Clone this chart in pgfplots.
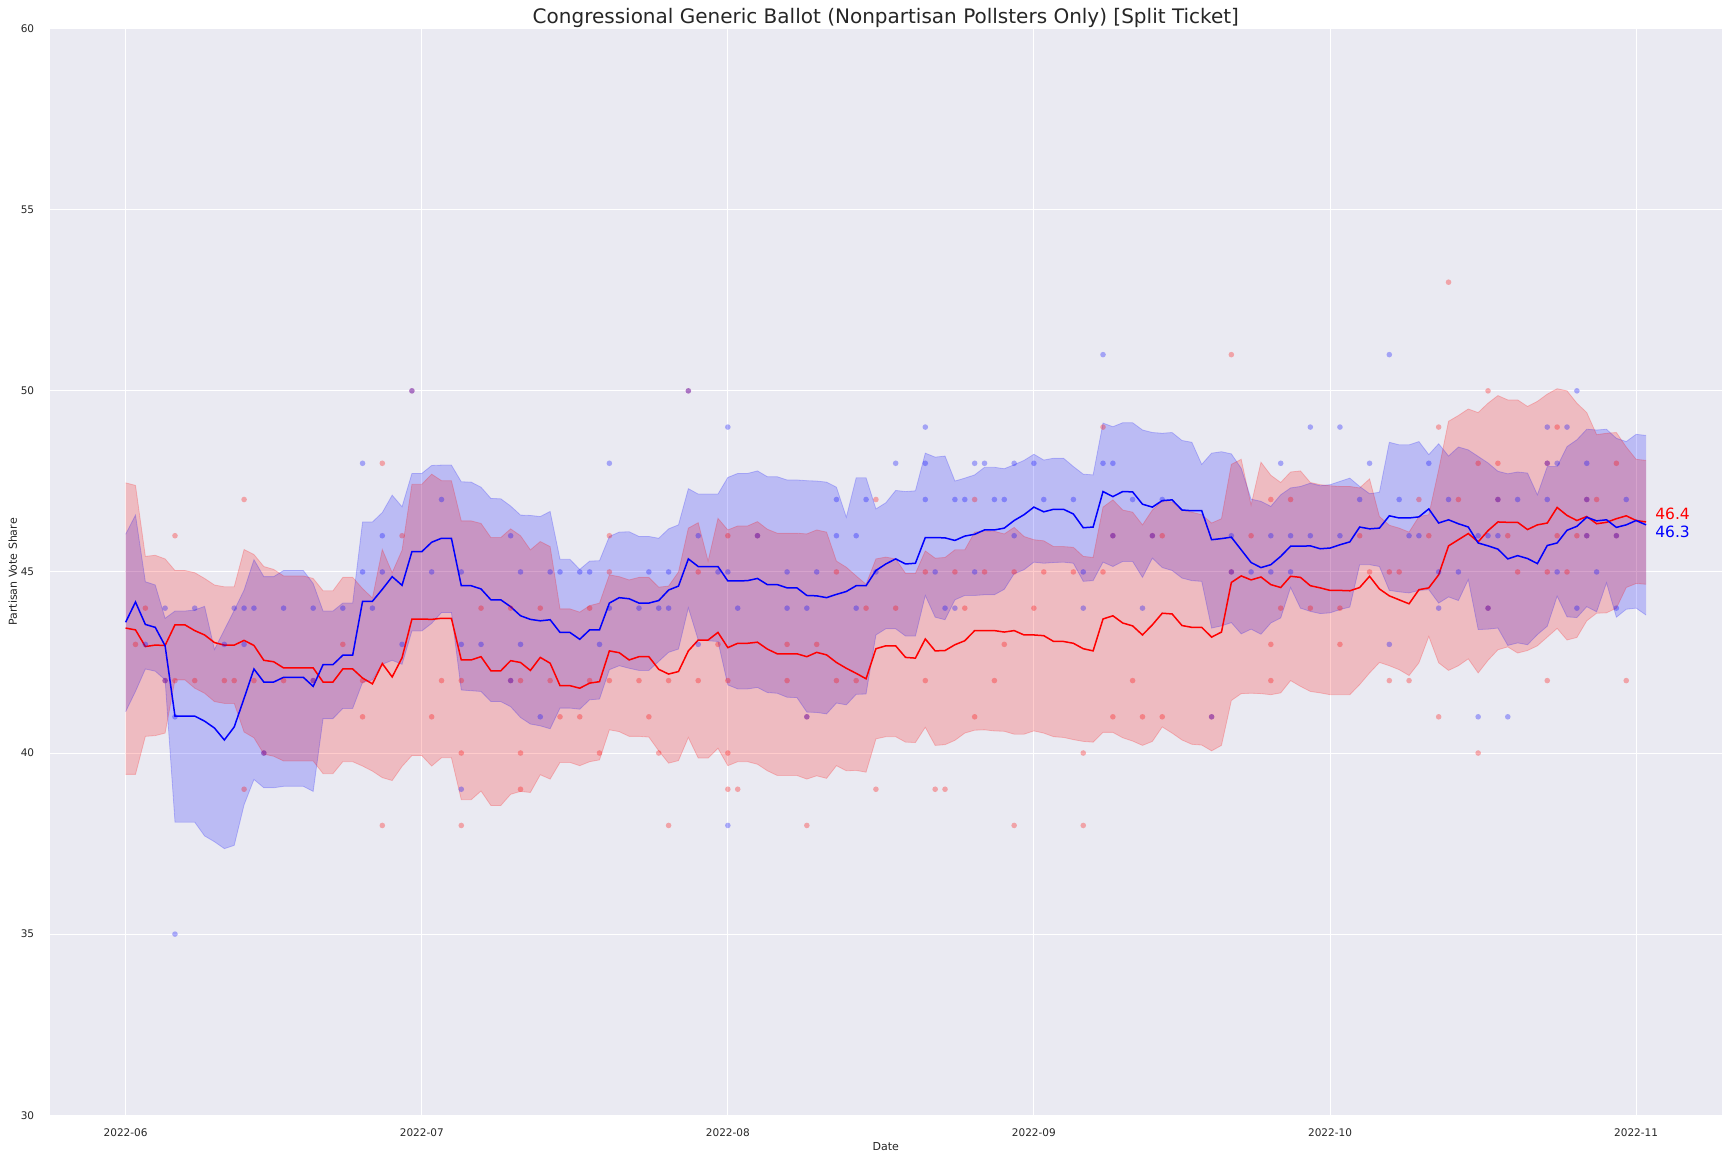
\documentclass[border=0pt]{standalone}
\usepackage{fontspec}
\setmainfont{DejaVu Sans}
\usepackage{pgfplots}
\usepackage{pgfplotstable}
\pgfplotsset{compat=1.18}
\usepgfplotslibrary{fillbetween}
\definecolor{bgc}{HTML}{EAEAF2}
\definecolor{txt}{gray}{0.15}
\pgfplotstableread{
d R Rlo Rhi B Blo Bhi
0 43.45 39.41 47.46 43.61 41.14 46.04
1 43.40 39.41 47.39 44.17 41.70 46.57
2 42.94 40.46 45.43 43.55 42.32 44.73
3 42.98 40.48 45.46 43.47 42.26 44.64
4 42.97 40.55 45.36 42.96 42.02 43.72
5 43.54 42.02 45.04 41.02 38.09 43.92
6 43.54 42.02 45.04 41.02 38.09 43.92
7 43.38 41.79 44.98 41.02 38.09 43.95
8 43.26 41.65 44.82 40.88 37.71 44.05
9 43.05 41.42 44.64 40.69 37.55 42.86
10 42.98 41.37 44.59 40.36 37.36 43.40
11 42.98 41.37 44.59 40.72 37.45 43.94
12 43.11 40.58 45.62 41.51 38.57 44.50
13 42.97 40.42 45.48 42.32 39.27 45.34
14 42.56 39.97 45.15 41.96 39.04 44.87
15 42.52 39.91 45.07 41.96 39.04 44.87
16 42.35 39.78 44.89 42.09 39.08 45.04
17 42.35 39.78 44.89 42.09 39.08 45.04
18 42.35 39.78 44.89 42.09 39.08 45.04
19 42.35 39.78 44.82 41.84 38.94 44.68
20 41.96 39.43 44.48 42.44 40.95 43.92
21 41.96 39.43 44.48 42.44 40.95 43.92
22 42.32 39.76 44.85 42.70 41.23 44.14
23 42.32 39.76 44.85 42.70 41.23 44.14
24 42.07 39.64 44.54 44.19 41.95 46.38
25 41.91 39.50 44.28 44.19 42.02 46.38
26 42.47 39.32 45.62 44.52 42.45 46.64
27 42.10 39.24 44.98 44.87 42.56 47.12
28 42.63 39.63 45.60 44.63 42.45 46.80
29 43.70 39.93 47.42 45.56 43.37 47.72
30 43.70 39.93 47.42 45.56 43.37 47.72
31 43.69 39.64 47.70 45.82 43.58 47.94
32 43.72 39.87 47.52 45.93 43.88 47.95
33 43.72 39.87 47.52 45.93 43.88 47.95
34 42.57 38.71 46.41 44.62 41.74 47.49
35 42.57 38.71 46.41 44.62 41.72 47.48
36 42.66 38.95 46.34 44.53 41.70 47.34
37 42.27 38.55 45.95 44.23 41.42 47.03
38 42.27 38.55 45.95 44.23 41.42 47.02
39 42.55 38.86 46.19 44.04 41.28 46.82
40 42.50 38.94 46.00 43.79 40.98 46.57
41 42.28 38.91 45.61 43.69 40.80 46.56
42 42.64 39.40 45.84 43.65 40.75 46.53
43 42.48 39.28 45.70 43.68 40.67 46.67
44 41.86 39.74 43.98 43.33 41.24 45.35
45 41.86 39.74 43.98 43.33 41.24 45.35
46 41.79 39.65 43.89 43.14 41.21 45.07
47 41.93 39.76 44.07 43.40 41.47 45.30
48 41.97 39.81 44.14 43.40 41.49 45.31
49 42.82 40.64 44.92 44.14 42.30 45.98
50 42.77 40.59 44.87 44.29 42.41 46.10
51 42.57 40.46 44.78 44.26 42.34 46.11
52 42.66 40.46 44.85 44.14 42.28 45.98
53 42.66 40.44 44.85 44.14 42.28 45.98
54 42.31 40.06 44.58 44.21 42.53 45.93
55 42.18 39.72 44.61 44.50 42.78 46.19
56 42.25 39.79 45.00 44.61 42.87 46.30
57 42.82 40.43 46.21 45.36 44.01 47.30
58 43.12 39.86 46.36 45.15 43.12 47.15
59 43.12 39.86 45.30 45.15 43.10 47.15
60 43.33 40.13 46.48 45.15 43.08 47.15
61 42.91 39.65 46.16 44.75 41.88 47.61
62 43.03 39.76 46.27 44.75 41.77 47.72
63 43.03 39.76 46.27 44.76 41.77 47.72
64 43.06 39.69 46.39 44.82 41.81 47.79
65 42.87 39.51 46.18 44.65 41.67 47.63
66 42.74 39.38 46.07 44.65 41.65 47.63
67 42.74 39.38 46.07 44.56 41.54 47.54
68 42.74 39.38 46.07 44.56 41.53 47.54
69 42.66 39.28 46.05 44.35 41.13 47.52
70 42.78 39.37 46.16 44.34 41.12 47.51
71 42.71 39.30 46.10 44.29 41.08 47.48
72 42.50 39.65 45.30 44.38 41.38 47.34
73 42.34 39.51 45.13 44.46 41.33 46.51
74 42.20 39.52 44.89 44.62 41.62 47.60
75 42.05 39.47 44.66 44.62 41.63 47.60
76 42.88 40.39 45.36 45.04 43.26 46.74
77 42.96 40.45 45.41 45.22 43.43 46.91
78 42.96 40.45 45.36 45.36 43.43 47.25
79 42.64 40.30 44.96 45.22 43.23 47.22
80 42.62 40.29 44.96 45.24 43.23 47.24
81 43.15 40.71 45.58 45.95 44.35 48.28
82 42.82 40.21 45.38 45.95 43.75 48.17
83 42.83 40.23 45.40 45.94 43.68 48.20
84 42.99 40.35 45.61 45.87 44.23 47.51
85 43.10 40.55 45.61 45.99 44.35 47.59
86 43.38 40.63 46.10 46.04 44.35 47.68
87 43.38 40.64 46.13 46.16 44.37 47.89
88 43.38 40.61 46.12 46.16 44.37 47.89
89 43.34 40.60 46.05 46.21 44.52 47.85
90 43.38 40.52 46.23 46.42 44.95 47.96
91 43.26 40.52 45.98 46.58 45.06 48.08
92 43.26 40.61 45.89 46.79 45.27 48.25
93 43.24 40.55 45.86 46.66 45.24 48.09
94 43.08 40.45 45.70 46.73 45.26 48.14
95 43.08 40.43 45.70 46.73 45.27 48.14
96 43.03 40.37 45.68 46.60 45.24 47.91
97 42.88 40.32 45.43 46.22 44.74 47.70
98 42.82 40.30 45.40 46.24 44.76 47.68
99 43.70 40.57 46.79 47.22 45.27 49.11
100 43.79 40.57 46.99 47.08 45.15 49.01
101 43.59 40.42 46.71 47.22 45.29 49.12
102 43.51 40.33 46.65 47.21 45.29 49.12
103 43.26 40.21 46.30 46.87 44.85 48.92
104 43.54 40.32 46.71 46.79 45.38 48.85
105 43.86 40.72 46.96 46.97 45.12 48.83
106 43.84 40.55 46.93 46.99 45.04 48.85
107 43.52 40.36 46.71 46.71 44.83 48.63
108 43.47 40.24 46.65 46.69 44.76 48.58
109 43.47 40.22 46.58 46.69 44.74 47.97
110 43.20 40.06 46.35 45.89 43.45 48.28
111 43.34 40.21 46.47 45.92 43.51 48.32
112 44.71 41.45 47.97 45.96 43.60 48.26
113 44.89 41.64 48.11 45.61 43.29 47.86
114 44.78 41.65 46.85 45.26 43.42 47.01
115 44.86 41.64 48.03 45.12 43.28 46.95
116 44.65 41.61 47.67 45.20 43.59 46.81
117 44.57 41.66 47.47 45.43 43.73 47.13
118 44.88 42.00 47.76 45.71 44.57 47.32
119 44.85 41.84 47.79 45.71 44.00 47.36
120 44.62 41.70 47.47 45.72 43.91 47.45
121 44.56 41.66 47.41 45.64 43.85 47.38
122 44.49 41.61 47.38 45.66 43.87 47.41
123 44.49 41.61 47.36 45.75 43.96 47.50
124 44.48 41.61 47.36 45.83 44.03 47.59
125 44.57 41.89 47.32 46.24 45.20 47.36
126 44.88 42.21 47.57 46.19 45.20 47.16
127 44.53 42.50 46.53 46.21 45.15 47.20
128 44.34 42.41 46.29 46.55 44.49 48.58
129 44.23 42.30 46.21 46.49 44.45 48.51
130 44.12 42.14 46.10 46.49 44.42 48.51
131 44.51 42.49 46.53 46.52 44.49 48.60
132 44.56 43.22 46.58 46.74 44.51 48.24
133 44.92 42.49 47.82 46.35 44.14 48.54
134 45.72 42.28 49.16 46.44 44.31 48.20
135 45.89 42.41 49.32 46.33 44.21 48.45
136 46.06 42.60 49.50 46.24 44.79 48.37
137 45.83 42.21 49.40 45.80 43.41 48.19
138 46.14 42.56 49.66 45.72 43.42 48.01
139 46.38 42.85 49.87 45.63 43.45 47.78
140 46.37 42.93 49.75 45.36 42.97 47.71
141 46.37 42.76 49.75 45.45 43.04 47.76
142 46.17 42.83 49.57 45.37 42.99 47.73
143 46.30 42.96 49.71 45.23 43.27 47.13
144 46.35 43.20 49.91 45.73 43.50 47.91
145 46.78 43.44 50.06 45.80 44.33 47.91
146 46.56 43.12 50.00 46.15 43.76 48.46
147 46.42 43.19 49.66 46.26 43.74 48.65
148 46.53 43.65 49.40 46.51 44.04 48.94
149 46.33 43.86 48.79 46.41 43.90 48.92
150 46.37 43.87 48.83 46.44 44.70 48.94
151 46.47 44.00 48.85 46.23 43.75 48.69
152 46.55 44.57 48.45 46.30 43.97 48.60
153 46.42 44.68 48.11 46.42 44.00 48.80
154 46.38 44.66 48.08 46.30 43.81 48.77
}\main
\begin{document}
\begin{tikzpicture}
\begin{axis}[
  at={(0pt,0pt)}, anchor=south west,
  width=836.2pt, height=543.25pt, scale only axis,
  xmin=-7.7, xmax=161.7, ymin=30, ymax=60,
  axis background/.style={fill=bgc},
  axis line style={draw=none},
  major tick length=0pt,
  tick style={draw=none},
  grid=major,
  major grid style={white, line width=0.5pt},
  xtick={0,30,61,92,122,153},
  xticklabels={2022-06,2022-07,2022-08,2022-09,2022-10,2022-11},
  ytick={30,35,40,45,50,55,60},
  /pgf/number format/assume math mode=true,
  tick label style={font=\fontsize{5.25}{6}\selectfont, text=txt},
  yticklabel style={xshift=-4.2pt},
  xticklabel style={yshift=-3.15pt},
  title={Congressional Generic Ballot (Nonpartisan Pollsters Only) [Split Ticket]},
  every axis title/.style={at={(axis description cs:0.5,1)}, anchor=base, yshift=2.35pt, font=\fontsize{10}{12}\selectfont, text=txt},
  xlabel={Date},
  every axis x label/.style={at={(axis description cs:0.5,0)}, anchor=base, yshift=-17.65pt, font=\fontsize{5.5}{6.5}\selectfont, text=txt},
  ylabel={Partisan Vote Share},
  every axis y label/.style={at={(axis description cs:-0.0195,0.5)}, rotate=90, anchor=base, font=\fontsize{5.5}{6.5}\selectfont, text=txt},
]
% scatter points
\addplot[only marks, mark=*, mark size=1.4pt, color=red, draw opacity=0, fill opacity=0.3, mark options={draw opacity=0, fill=red, fill opacity=0.3}] coordinates {
(1,43) (2,44) (4,42) (5,46) (5,42) (7,42) (10,42) (11,42) (12,47) (12,39) (13,42) (14,40) (16,42) (19,42) (22,43) (24,41) (24,42) (26,48) (26,38) (28,46) (29,50)
(31,41) (32,42) (34,42) (34,40) (34,38) (36,44) (39,44) (39,42) (40,42) (40,40) (40,39) (42,44) (43,42) (44,41) (46,41) (47,44) (47,42) (48,40) (49,46) (49,45) (49,42) (52,42) (53,41) (54,40) (55,42) (55,38) (57,50)
(58,45) (58,42) (60,43) (61,46) (61,42) (61,40) (61,39) (62,39) (64,46) (67,43) (67,42) (69,41) (69,38) (70,43) (72,45) (72,42) (74,42) (75,44) (76,47) (76,39) (78,44) (81,45) (81,42) (82,39) (83,39) (84,45) (85,44) (86,47) (86,41)
(87,45) (88,42) (89,43) (90,45) (90,38) (92,44) (93,45) (96,45) (97,40) (97,38) (99,49) (99,45) (100,46) (100,41) (102,42) (103,41) (104,46) (105,46) (105,41) (110,41) (112,51) (112,45) (114,46) (116,47) (116,43) (116,42)
(117,44) (118,47) (120,44) (123,44) (123,43) (125,46) (126,45) (128,45) (128,42) (129,45) (130,42) (131,47) (132,46) (133,49) (133,41) (134,53) (135,47) (137,48) (137,40) (138,50) (138,44) (139,48) (139,47) (140,46) (141,45) (144,48) (144,45) (144,42) (145,49) (145,46) (146,45) (147,46) (148,47) (148,46) (149,47) (151,48) (151,46) (152,42)
};
\addplot[only marks, mark=*, mark size=1.4pt, color=blue, draw opacity=0, fill opacity=0.3, mark options={draw opacity=0, fill=blue, fill opacity=0.3}] coordinates {
(2,43) (4,44) (4,42) (5,41) (5,35) (7,44) (10,43) (11,44) (12,44) (12,43) (13,44) (14,40) (16,44) (19,44) (19,42) (22,44) (24,48) (24,45) (25,44) (26,46) (26,45) (28,43) (29,50)
(31,45) (32,47) (34,45) (34,43) (34,39) (36,43) (39,46) (39,42) (40,45) (40,43) (42,41) (43,45) (44,45) (46,45) (47,45) (48,43) (49,48) (49,44) (52,44) (53,45) (54,44) (55,45) (55,44) (57,50)
(58,46) (58,43) (60,45) (61,49) (61,45) (61,38) (62,44) (64,46) (67,45) (67,44) (69,44) (69,41) (70,45) (72,47) (72,46) (74,46) (74,44) (75,47) (76,45) (78,48) (81,49) (81,48) (81,47) (82,45) (83,44) (84,47) (84,44) (85,47) (86,48) (86,45)
(87,48) (88,47) (89,47) (90,48) (90,46) (92,48) (93,47) (96,47) (97,45) (97,44) (99,51) (99,48) (100,48) (100,46) (102,47) (103,44) (104,46) (105,47) (110,41) (112,46) (112,45) (114,45) (116,46) (116,45)
(117,48) (118,46) (118,45) (120,49) (120,46) (123,49) (123,46) (125,47) (126,48) (128,51) (128,43) (129,47) (130,46) (131,46) (132,48) (133,45) (133,44) (134,47) (135,45) (137,46) (137,41) (138,46) (138,44) (139,47) (139,46) (140,41) (141,47) (144,49) (144,48) (144,47) (145,48) (145,45) (146,49) (147,50) (147,44) (148,48) (148,47) (148,46) (149,45) (151,46) (151,44) (152,47)
};
% bands
\addplot[name path=bhi, draw=blue, draw opacity=0.2, line width=0.4pt] table[x=d, y=Bhi] {\main};
\addplot[name path=blo, draw=blue, draw opacity=0.2, line width=0.4pt] table[x=d, y=Blo] {\main};
\addplot[fill=blue, fill opacity=0.2, draw=none] fill between[of=bhi and blo];
\addplot[name path=rhi, draw=red, draw opacity=0.2, line width=0.4pt] table[x=d, y=Rhi] {\main};
\addplot[name path=rlo, draw=red, draw opacity=0.2, line width=0.4pt] table[x=d, y=Rlo] {\main};
\addplot[fill=red, fill opacity=0.2, draw=none] fill between[of=rhi and rlo];
% lines
\addplot[red, line width=0.75pt] table[x=d, y=R] {\main};
\addplot[blue, line width=0.75pt] table[x=d, y=B] {\main};
\node[anchor=west, inner sep=0pt, text=red, font=\fontsize{7.75}{9}\selectfont] at (axis cs:154.9,46.6) {46.4};
\node[anchor=west, inner sep=0pt, text=blue, font=\fontsize{7.75}{9}\selectfont] at (axis cs:154.9,46.1) {46.3};
\end{axis}
\path (-24.8pt,-21.9pt) rectangle (839.2pt,557.6pt);
\end{tikzpicture}
\end{document}
